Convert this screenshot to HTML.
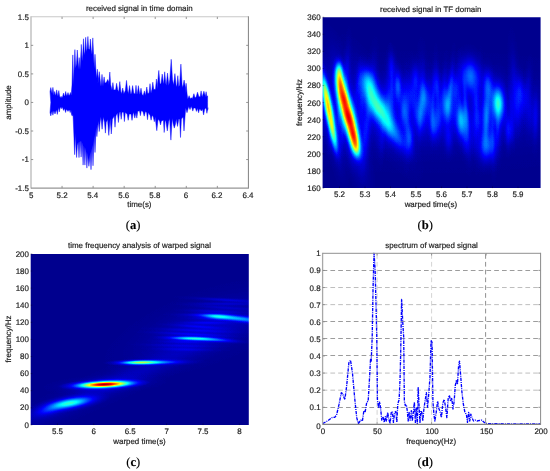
<!DOCTYPE html>
<html><head><meta charset="utf-8"><title>figure</title>
<style>
html,body{margin:0;padding:0;background:#fff}
svg{display:block}
text{font-family:"Liberation Sans",sans-serif;fill:#1c1c1c;stroke:#1c1c1c;stroke-width:.18px;text-rendering:geometricPrecision}
text.cap{font-family:"Liberation Serif",serif;fill:#000;stroke:#000;stroke-width:.12px}
</style></head><body>
<svg width="550" height="471" viewBox="0 0 550 471">
<defs>
<filter id="jet" color-interpolation-filters="sRGB" filterUnits="userSpaceOnUse" x="0" y="0" width="550" height="471">
<feComponentTransfer>
<feFuncR type="table" tableValues="0 0 0 0 .5 1 1 1 .5"/>
<feFuncG type="table" tableValues="0 0 .5 1 1 1 .5 0 0"/>
<feFuncB type="table" tableValues=".56 1 1 1 .5 0 0 0 0"/>
</feComponentTransfer>
</filter>
<radialGradient id="g" cx="0" cy="0" r="1" gradientUnits="objectBoundingBox" gradientTransform="translate(.5 .5) scale(.5)"><stop offset="0.000" stop-color="#fff" stop-opacity="1.000"/><stop offset="0.083" stop-color="#fff" stop-opacity="0.969"/><stop offset="0.167" stop-color="#fff" stop-opacity="0.882"/><stop offset="0.250" stop-color="#fff" stop-opacity="0.755"/><stop offset="0.333" stop-color="#fff" stop-opacity="0.607"/><stop offset="0.417" stop-color="#fff" stop-opacity="0.458"/><stop offset="0.500" stop-color="#fff" stop-opacity="0.325"/><stop offset="0.583" stop-color="#fff" stop-opacity="0.216"/><stop offset="0.667" stop-color="#fff" stop-opacity="0.135"/><stop offset="0.750" stop-color="#fff" stop-opacity="0.080"/><stop offset="0.833" stop-color="#fff" stop-opacity="0.044"/><stop offset="0.917" stop-color="#fff" stop-opacity="0.023"/><stop offset="1.000" stop-color="#fff" stop-opacity="0.000"/></radialGradient>
<clipPath id="cb"><rect x="322.6" y="17.2" width="218" height="170.9"/></clipPath>
<clipPath id="cc"><rect x="30.7" y="253.9" width="218.1" height="171.2"/></clipPath>
</defs>
<rect width="550" height="471" fill="#fff"/>
<polygon points="50.8,102.5 50.0,91.6 50.8,87.6 51.6,91.6 52.1,93.4 52.9,87.4 53.7,93.4 53.9,95.3 54.7,91.5 55.5,95.3 55.9,95.0 56.7,89.9 57.5,95.0 58.0,96.1 58.8,90.6 59.6,96.1 60.3,98.1 61.1,96.3 61.9,98.1 62.7,96.3 63.5,93.1 64.3,96.3 64.9,95.4 65.7,91.5 66.5,95.4 67.2,95.3 68.0,92.6 68.8,95.3 69.6,95.3 70.4,92.5 71.2,95.3 72.0,84.9 72.8,54.9 73.6,84.9 74.1,68.3 74.9,49.6 75.7,68.3 76.5,63.4 77.3,50.0 78.1,63.4 78.4,69.6 79.2,57.6 80.0,69.6 80.5,61.1 81.3,44.4 82.1,61.1 82.7,54.9 83.5,38.8 84.3,54.9 84.9,51.7 85.7,37.3 86.5,51.7 87.1,48.7 87.9,36.5 88.7,48.7 89.6,49.6 90.4,39.0 91.2,49.6 92.0,54.6 92.8,37.9 93.6,54.6 94.2,68.4 95.0,54.3 95.8,68.4 96.6,78.5 97.4,69.2 98.2,78.5 97.9,83.8 99.3,71.7 100.6,83.8 101.0,86.5 102.0,74.4 103.0,86.5 103.2,83.3 104.1,76.9 105.0,83.3 106.6,82.1 107.7,79.5 108.8,82.1 108.9,84.7 109.8,72.0 110.7,84.7 112.0,90.1 112.9,82.6 113.8,90.1 115.6,89.7 116.6,83.3 117.7,89.7 118.7,91.8 119.8,81.6 120.9,91.8 121.5,93.7 122.7,88.0 123.9,93.7 125.3,90.6 126.5,80.4 127.6,90.6 128.4,93.7 129.5,85.6 130.7,93.7 131.5,93.2 132.6,85.6 133.8,93.2 135.1,94.1 136.0,85.3 136.9,94.1 137.3,93.8 138.4,85.7 139.6,93.8 139.8,94.6 141.0,88.2 142.1,94.6 143.2,95.6 144.4,90.9 145.5,95.6 145.8,93.3 146.8,87.0 147.7,93.3 149.0,93.2 150.0,83.7 151.0,93.2 151.9,89.6 152.8,82.2 153.8,89.6 155.5,89.2 156.4,79.0 157.4,89.2 157.5,84.0 158.8,70.4 160.0,84.0 161.0,83.8 162.2,74.1 163.5,83.8 163.8,82.8 164.7,71.8 165.7,82.8 166.2,85.6 167.5,73.1 168.8,85.6 169.8,79.5 171.2,59.3 172.5,79.5 173.6,85.1 174.9,73.6 176.1,85.1 176.8,86.8 177.8,75.7 178.8,86.8 179.6,85.0 180.9,64.1 182.1,85.0 182.8,87.4 184.1,80.1 185.4,87.4 185.2,94.0 186.1,83.3 187.1,94.0 187.8,99.0 189.1,95.7 190.4,99.0 190.4,98.8 191.5,97.7 192.6,98.8 192.6,98.1 193.9,93.7 195.1,98.1 196.3,96.6 197.5,92.2 198.8,96.6 200.1,97.0 201.1,90.9 202.1,97.0 202.6,95.6 203.9,91.2 205.1,95.6 205.2,97.2 206.1,91.7 207.0,97.2 207.6,95.8 207.6,102.5 207.6,102.5 207.6,110.3 207.9,107.7 206.9,113.3 205.9,107.7 204.6,109.4 203.6,114.9 202.6,109.4 202.2,109.6 201.3,111.0 200.4,109.6 199.5,109.1 198.6,112.8 197.6,109.1 197.5,108.0 196.4,111.4 195.4,108.0 193.7,108.0 192.8,111.1 191.9,108.0 191.2,106.6 190.0,109.6 188.7,106.6 188.3,108.1 187.0,112.7 185.7,108.1 185.0,117.0 184.0,131.0 183.1,117.0 181.4,119.0 180.5,137.5 179.6,119.0 178.8,119.0 177.5,126.4 176.2,119.0 175.5,123.9 174.3,128.1 173.2,123.9 172.2,118.6 170.9,140.1 169.6,118.6 168.6,121.7 167.3,130.9 165.9,121.7 165.1,120.2 164.2,132.5 163.4,120.2 161.4,121.1 160.5,124.9 159.6,121.1 158.1,119.2 156.8,130.7 155.4,119.2 155.4,116.7 154.3,121.7 153.2,116.7 152.1,115.4 151.1,120.2 150.1,115.4 148.4,112.4 147.5,119.7 146.6,112.4 145.5,111.5 144.2,116.2 142.9,111.5 141.3,110.8 140.4,115.7 139.5,110.8 137.8,111.2 136.8,118.1 135.8,111.2 136.1,112.2 134.8,118.1 133.5,112.2 133.0,113.9 132.0,120.4 131.0,113.9 129.3,114.1 128.2,120.3 127.1,114.1 125.3,112.6 124.4,121.6 123.6,112.6 122.1,112.1 121.2,119.3 120.3,112.1 119.4,112.8 118.4,122.5 117.4,112.8 115.9,116.0 115.0,127.2 114.2,116.0 112.4,119.3 111.3,134.0 110.2,119.3 110.1,119.6 108.8,135.4 107.5,119.6 106.2,122.4 105.4,133.1 104.5,122.4 103.3,116.9 102.1,129.2 100.9,116.9 100.2,121.0 99.2,131.6 98.3,121.0 97.7,127.2 96.9,136.6 96.1,127.2 95.8,135.1 95.0,152.5 94.2,135.1 93.8,144.7 93.0,165.8 92.2,144.7 91.8,151.7 91.0,169.7 90.2,151.7 89.7,159.0 88.9,166.3 88.1,159.0 87.7,152.8 86.9,168.1 86.1,152.8 85.7,147.5 84.9,165.1 84.1,147.5 83.9,145.5 83.1,165.1 82.3,145.5 81.9,140.9 81.1,157.1 80.3,140.9 79.8,141.9 79.0,157.6 78.2,141.9 77.4,145.4 76.6,157.5 75.8,145.4 75.4,133.0 74.6,154.7 73.8,133.0 73.0,114.2 72.2,116.1 71.4,114.2 71.0,110.1 70.2,112.6 69.4,110.1 68.8,109.9 68.0,111.4 67.2,109.9 66.4,109.4 65.6,112.5 64.8,109.4 64.4,108.4 63.6,110.4 62.8,108.4 62.0,107.0 61.2,108.8 60.4,107.0 60.1,107.5 59.3,111.9 58.5,107.5 58.1,109.8 57.3,114.4 56.5,109.8 55.8,111.6 55.0,114.0 54.2,111.6 53.7,111.3 52.9,115.2 52.1,111.3 51.6,112.5 50.8,115.9 50.0,112.5 50.8,102.5" fill="#0000ff" stroke="#0000ff" stroke-width="0.45" stroke-linejoin="round"/>
<line x1="31.0" y1="16.3" x2="31.0" y2="188.6" stroke="#b6b6b6" stroke-width="1.25"/>
<line x1="31.0" y1="16.8" x2="248.4" y2="16.8" stroke="#c8c8c8" stroke-width="1.1"/>
<line x1="248.4" y1="16.3" x2="248.4" y2="188.6" stroke="#808080" stroke-width="1.0"/>
<line x1="31.0" y1="188.1" x2="248.4" y2="188.1" stroke="#969696" stroke-width="1.05"/>
<path d="M62.06 188.1v-2.2M62.06 16.8v2.2M93.11 188.1v-2.2M93.11 16.8v2.2M124.17 188.1v-2.2M124.17 16.8v2.2M155.23 188.1v-2.2M155.23 16.8v2.2M186.29 188.1v-2.2M186.29 16.8v2.2M217.34 188.1v-2.2M217.34 16.8v2.2M31.0 45.35h2.2M248.4 45.35h-2.2M31.0 73.90h2.2M248.4 73.90h-2.2M31.0 102.45h2.2M248.4 102.45h-2.2M31.0 131.00h2.2M248.4 131.00h-2.2M31.0 159.55h2.2M248.4 159.55h-2.2" stroke="#8a8a8a" stroke-width="0.9" fill="none"/>
<text x="31.30" y="197.70" text-anchor="middle" font-size="7.95" >5</text>
<text x="62.06" y="197.70" text-anchor="middle" font-size="7.95" >5.2</text>
<text x="92.71" y="197.70" text-anchor="middle" font-size="7.95" >5.4</text>
<text x="123.77" y="197.70" text-anchor="middle" font-size="7.95" >5.6</text>
<text x="154.83" y="197.70" text-anchor="middle" font-size="7.95" >5.8</text>
<text x="185.89" y="197.70" text-anchor="middle" font-size="7.95" >6</text>
<text x="216.94" y="197.70" text-anchor="middle" font-size="7.95" >6.2</text>
<text x="248.00" y="197.70" text-anchor="middle" font-size="7.95" >6.4</text>
<text x="28.90" y="19.65" text-anchor="end" font-size="7.95" >1.5</text>
<text x="28.90" y="48.20" text-anchor="end" font-size="7.95" >1</text>
<text x="28.90" y="76.75" text-anchor="end" font-size="7.95" >0.5</text>
<text x="28.90" y="105.30" text-anchor="end" font-size="7.95" >0</text>
<text x="28.90" y="133.85" text-anchor="end" font-size="7.95" >-0.5</text>
<text x="28.90" y="162.40" text-anchor="end" font-size="7.95" >-1</text>
<text x="28.90" y="190.95" text-anchor="end" font-size="7.95" >-1.5</text>
<text x="139.30" y="11.10" text-anchor="middle" font-size="7.95" >received signal in time domain</text>
<text x="139.40" y="207.30" text-anchor="middle" font-size="7.95" >time(s)</text>
<text transform="translate(10.60,102.50) rotate(-90)" text-anchor="middle" font-size="7.95">amplitude</text>
<text x="133.2" y="229.4" text-anchor="middle" class="cap" font-size="12.6">(<tspan font-weight="bold">a</tspan>)</text>
<g clip-path="url(#cb)"><g filter="url(#jet)">
<rect x="320.6" y="15.2" width="222.0" height="174.9" fill="#000"/>
<ellipse cx="0" cy="0" rx="270.0" ry="72.0" transform="translate(430.0,112.0) rotate(0.0)" fill="url(#g)" opacity="0.050"/>
<ellipse cx="0" cy="0" rx="180.0" ry="66.0" transform="translate(400.0,110.0) rotate(0.0)" fill="url(#g)" opacity="0.030"/>
<ellipse cx="0" cy="0" rx="43.3" ry="6.7" transform="translate(327.7,112.7) rotate(92.3)" fill="url(#g)" opacity="0.025"/>
<ellipse cx="0" cy="0" rx="39.3" ry="5.2" transform="translate(331.2,130.2) rotate(96.0)" fill="url(#g)" opacity="0.055"/>
<ellipse cx="0" cy="0" rx="53.0" ry="4.8" transform="translate(339.5,108.6) rotate(92.3)" fill="url(#g)" opacity="0.085"/>
<ellipse cx="0" cy="0" rx="54.2" ry="4.5" transform="translate(342.7,124.5) rotate(93.6)" fill="url(#g)" opacity="0.064"/>
<ellipse cx="0" cy="0" rx="61.2" ry="6.2" transform="translate(346.2,81.9) rotate(93.2)" fill="url(#g)" opacity="0.086"/>
<ellipse cx="0" cy="0" rx="44.2" ry="7.6" transform="translate(352.7,135.3) rotate(90.4)" fill="url(#g)" opacity="0.090"/>
<ellipse cx="0" cy="0" rx="34.9" ry="5.1" transform="translate(358.0,85.8) rotate(95.7)" fill="url(#g)" opacity="0.053"/>
<ellipse cx="0" cy="0" rx="48.3" ry="5.8" transform="translate(361.4,98.1) rotate(89.5)" fill="url(#g)" opacity="0.064"/>
<ellipse cx="0" cy="0" rx="54.6" ry="8.1" transform="translate(365.8,134.3) rotate(94.6)" fill="url(#g)" opacity="0.094"/>
<ellipse cx="0" cy="0" rx="61.0" ry="8.3" transform="translate(370.8,89.8) rotate(95.0)" fill="url(#g)" opacity="0.063"/>
<ellipse cx="0" cy="0" rx="59.9" ry="6.6" transform="translate(375.5,92.7) rotate(88.8)" fill="url(#g)" opacity="0.025"/>
<ellipse cx="0" cy="0" rx="33.2" ry="7.6" transform="translate(380.7,139.4) rotate(90.1)" fill="url(#g)" opacity="0.031"/>
<ellipse cx="0" cy="0" rx="61.4" ry="4.4" transform="translate(382.7,126.1) rotate(92.1)" fill="url(#g)" opacity="0.023"/>
<ellipse cx="0" cy="0" rx="61.7" ry="8.3" transform="translate(389.2,99.9) rotate(91.1)" fill="url(#g)" opacity="0.095"/>
<ellipse cx="0" cy="0" rx="51.6" ry="4.3" transform="translate(391.9,84.6) rotate(88.0)" fill="url(#g)" opacity="0.051"/>
<ellipse cx="0" cy="0" rx="31.5" ry="7.8" transform="translate(397.9,89.4) rotate(89.1)" fill="url(#g)" opacity="0.092"/>
<ellipse cx="0" cy="0" rx="46.6" ry="6.4" transform="translate(403.7,102.7) rotate(92.4)" fill="url(#g)" opacity="0.065"/>
<ellipse cx="0" cy="0" rx="63.9" ry="6.3" transform="translate(406.8,117.2) rotate(90.3)" fill="url(#g)" opacity="0.074"/>
<ellipse cx="0" cy="0" rx="65.2" ry="6.4" transform="translate(409.9,98.1) rotate(91.5)" fill="url(#g)" opacity="0.021"/>
<ellipse cx="0" cy="0" rx="30.7" ry="6.8" transform="translate(415.2,114.8) rotate(92.3)" fill="url(#g)" opacity="0.025"/>
<ellipse cx="0" cy="0" rx="54.5" ry="5.7" transform="translate(420.8,108.0) rotate(93.1)" fill="url(#g)" opacity="0.075"/>
<ellipse cx="0" cy="0" rx="54.3" ry="8.2" transform="translate(422.6,83.6) rotate(88.5)" fill="url(#g)" opacity="0.054"/>
<ellipse cx="0" cy="0" rx="43.1" ry="5.5" transform="translate(429.7,99.2) rotate(89.7)" fill="url(#g)" opacity="0.065"/>
<ellipse cx="0" cy="0" rx="57.8" ry="4.3" transform="translate(433.0,102.6) rotate(91.7)" fill="url(#g)" opacity="0.075"/>
<ellipse cx="0" cy="0" rx="58.9" ry="5.2" transform="translate(437.6,93.4) rotate(87.9)" fill="url(#g)" opacity="0.053"/>
<ellipse cx="0" cy="0" rx="41.6" ry="5.6" transform="translate(443.9,86.1) rotate(94.3)" fill="url(#g)" opacity="0.053"/>
<ellipse cx="0" cy="0" rx="42.1" ry="6.9" transform="translate(449.2,90.2) rotate(94.8)" fill="url(#g)" opacity="0.054"/>
<ellipse cx="0" cy="0" rx="49.1" ry="5.0" transform="translate(450.9,87.3) rotate(94.1)" fill="url(#g)" opacity="0.083"/>
<ellipse cx="0" cy="0" rx="59.1" ry="6.9" transform="translate(455.3,96.7) rotate(94.1)" fill="url(#g)" opacity="0.046"/>
<ellipse cx="0" cy="0" rx="58.6" ry="5.3" transform="translate(459.6,97.5) rotate(89.5)" fill="url(#g)" opacity="0.051"/>
<ellipse cx="0" cy="0" rx="63.1" ry="4.9" transform="translate(465.5,104.6) rotate(86.0)" fill="url(#g)" opacity="0.091"/>
<ellipse cx="0" cy="0" rx="45.6" ry="8.2" transform="translate(472.1,139.2) rotate(95.3)" fill="url(#g)" opacity="0.037"/>
<ellipse cx="0" cy="0" rx="53.9" ry="6.4" transform="translate(476.1,130.2) rotate(88.9)" fill="url(#g)" opacity="0.046"/>
<ellipse cx="0" cy="0" rx="51.2" ry="5.4" transform="translate(478.3,84.1) rotate(94.1)" fill="url(#g)" opacity="0.023"/>
<ellipse cx="0" cy="0" rx="63.3" ry="8.0" transform="translate(485.9,121.6) rotate(95.0)" fill="url(#g)" opacity="0.063"/>
<ellipse cx="0" cy="0" rx="36.2" ry="5.5" transform="translate(486.4,124.7) rotate(92.6)" fill="url(#g)" opacity="0.059"/>
<ellipse cx="0" cy="0" rx="52.0" ry="5.6" transform="translate(492.8,136.3) rotate(88.5)" fill="url(#g)" opacity="0.085"/>
<ellipse cx="0" cy="0" rx="42.7" ry="5.0" transform="translate(497.7,126.9) rotate(91.3)" fill="url(#g)" opacity="0.081"/>
<ellipse cx="0" cy="0" rx="63.2" ry="7.6" transform="translate(500.9,127.5) rotate(94.2)" fill="url(#g)" opacity="0.021"/>
<ellipse cx="0" cy="0" rx="31.8" ry="5.3" transform="translate(507.5,131.8) rotate(88.7)" fill="url(#g)" opacity="0.060"/>
<ellipse cx="0" cy="0" rx="58.0" ry="4.2" transform="translate(511.1,108.4) rotate(86.5)" fill="url(#g)" opacity="0.030"/>
<ellipse cx="0" cy="0" rx="65.1" ry="7.8" transform="translate(514.3,84.1) rotate(86.9)" fill="url(#g)" opacity="0.058"/>
<ellipse cx="0" cy="0" rx="42.6" ry="6.9" transform="translate(519.8,98.9) rotate(91.9)" fill="url(#g)" opacity="0.047"/>
<ellipse cx="0" cy="0" rx="34.5" ry="6.5" transform="translate(523.8,99.7) rotate(93.2)" fill="url(#g)" opacity="0.049"/>
<ellipse cx="0" cy="0" rx="43.4" ry="6.7" transform="translate(527.8,90.7) rotate(93.8)" fill="url(#g)" opacity="0.049"/>
<ellipse cx="0" cy="0" rx="45.5" ry="5.8" transform="translate(535.7,117.4) rotate(91.0)" fill="url(#g)" opacity="0.073"/>
<ellipse cx="0" cy="0" rx="27.0" ry="7.8" transform="translate(415.7,78.7) rotate(88.0)" fill="url(#g)" opacity="0.110"/>
<ellipse cx="0" cy="0" rx="27.0" ry="7.8" transform="translate(424.6,96.5) rotate(88.0)" fill="url(#g)" opacity="0.130"/>
<ellipse cx="0" cy="0" rx="27.0" ry="7.8" transform="translate(447.0,107.0) rotate(88.0)" fill="url(#g)" opacity="0.120"/>
<ellipse cx="0" cy="0" rx="27.0" ry="7.8" transform="translate(460.4,120.4) rotate(88.0)" fill="url(#g)" opacity="0.100"/>
<ellipse cx="0" cy="0" rx="27.0" ry="7.8" transform="translate(409.8,138.2) rotate(88.0)" fill="url(#g)" opacity="0.140"/>
<ellipse cx="0" cy="0" rx="27.0" ry="7.8" transform="translate(397.9,84.6) rotate(88.0)" fill="url(#g)" opacity="0.100"/>
<ellipse cx="0" cy="0" rx="27.0" ry="7.8" transform="translate(436.5,84.6) rotate(88.0)" fill="url(#g)" opacity="0.080"/>
<ellipse cx="0" cy="0" rx="27.0" ry="7.8" transform="translate(392.0,66.8) rotate(88.0)" fill="url(#g)" opacity="0.070"/>
<ellipse cx="0" cy="0" rx="27.0" ry="7.8" transform="translate(433.6,126.0) rotate(88.0)" fill="url(#g)" opacity="0.100"/>
<ellipse cx="0" cy="0" rx="27.0" ry="7.8" transform="translate(448.5,138.0) rotate(88.0)" fill="url(#g)" opacity="0.080"/>
<ellipse cx="0" cy="0" rx="27.0" ry="7.8" transform="translate(418.7,117.0) rotate(88.0)" fill="url(#g)" opacity="0.080"/>
<ellipse cx="0" cy="0" rx="27.0" ry="7.8" transform="translate(466.0,141.0) rotate(88.0)" fill="url(#g)" opacity="0.080"/>
<ellipse cx="0" cy="0" rx="27.0" ry="7.8" transform="translate(404.0,112.0) rotate(88.0)" fill="url(#g)" opacity="0.080"/>
<ellipse cx="0" cy="0" rx="27.0" ry="7.8" transform="translate(455.0,88.0) rotate(88.0)" fill="url(#g)" opacity="0.080"/>
<ellipse cx="0" cy="0" rx="27.0" ry="7.8" transform="translate(478.0,120.0) rotate(88.0)" fill="url(#g)" opacity="0.080"/>
<ellipse cx="0" cy="0" rx="27.0" ry="7.8" transform="translate(510.0,130.0) rotate(88.0)" fill="url(#g)" opacity="0.080"/>
<ellipse cx="0" cy="0" rx="27.0" ry="7.8" transform="translate(520.0,90.0) rotate(88.0)" fill="url(#g)" opacity="0.070"/>
<ellipse cx="0" cy="0" rx="27.0" ry="7.8" transform="translate(476.0,100.0) rotate(88.0)" fill="url(#g)" opacity="0.070"/>
<ellipse cx="0" cy="0" rx="36.0" ry="6.6" transform="translate(325.6,92.0) rotate(80.0)" fill="url(#g)" opacity="0.400"/>
<ellipse cx="0" cy="0" rx="36.0" ry="6.9" transform="translate(328.6,108.0) rotate(79.0)" fill="url(#g)" opacity="0.470"/>
<ellipse cx="0" cy="0" rx="36.0" ry="6.3" transform="translate(331.8,126.0) rotate(78.0)" fill="url(#g)" opacity="0.400"/>
<ellipse cx="0" cy="0" rx="27.0" ry="6.0" transform="translate(334.2,141.0) rotate(80.0)" fill="url(#g)" opacity="0.180"/>
<ellipse cx="0" cy="0" rx="90.0" ry="12.0" transform="translate(329.0,110.0) rotate(79.0)" fill="url(#g)" opacity="0.140"/>
<ellipse cx="0" cy="0" rx="18.0" ry="7.2" transform="translate(339.4,71.0) rotate(88.0)" fill="url(#g)" opacity="0.300"/>
<ellipse cx="0" cy="0" rx="27.0" ry="8.1" transform="translate(340.3,83.0) rotate(82.0)" fill="url(#g)" opacity="0.600"/>
<ellipse cx="0" cy="0" rx="33.0" ry="9.9" transform="translate(343.5,98.0) rotate(76.0)" fill="url(#g)" opacity="0.720"/>
<ellipse cx="0" cy="0" rx="36.0" ry="10.5" transform="translate(348.5,117.0) rotate(75.0)" fill="url(#g)" opacity="0.840"/>
<ellipse cx="0" cy="0" rx="30.0" ry="9.0" transform="translate(353.3,135.0) rotate(76.0)" fill="url(#g)" opacity="0.720"/>
<ellipse cx="0" cy="0" rx="21.0" ry="7.8" transform="translate(355.6,146.0) rotate(80.0)" fill="url(#g)" opacity="0.450"/>
<ellipse cx="0" cy="0" rx="96.0" ry="18.0" transform="translate(348.0,115.0) rotate(77.0)" fill="url(#g)" opacity="0.220"/>
<ellipse cx="0" cy="0" rx="27.0" ry="13.2" transform="translate(367.5,81.0) rotate(80.0)" fill="url(#g)" opacity="0.200"/>
<ellipse cx="0" cy="0" rx="30.0" ry="15.0" transform="translate(371.5,94.0) rotate(72.0)" fill="url(#g)" opacity="0.220"/>
<ellipse cx="0" cy="0" rx="27.0" ry="16.2" transform="translate(379.0,108.0) rotate(62.0)" fill="url(#g)" opacity="0.270"/>
<ellipse cx="0" cy="0" rx="30.0" ry="13.8" transform="translate(387.5,123.0) rotate(58.0)" fill="url(#g)" opacity="0.210"/>
<ellipse cx="0" cy="0" rx="33.0" ry="13.5" transform="translate(398.0,139.0) rotate(55.0)" fill="url(#g)" opacity="0.110"/>
<ellipse cx="0" cy="0" rx="90.0" ry="24.0" transform="translate(380.0,108.0) rotate(62.0)" fill="url(#g)" opacity="0.090"/>
<ellipse cx="0" cy="0" rx="28.5" ry="11.1" transform="translate(498.0,103.0) rotate(88.0)" fill="url(#g)" opacity="0.310"/>
<ellipse cx="0" cy="0" rx="45.0" ry="13.5" transform="translate(498.0,105.0) rotate(90.0)" fill="url(#g)" opacity="0.120"/>
<ellipse cx="0" cy="0" rx="33.0" ry="18.0" transform="translate(470.5,76.0) rotate(85.0)" fill="url(#g)" opacity="0.220"/>
<ellipse cx="0" cy="0" rx="30.0" ry="10.2" transform="translate(488.0,86.0) rotate(88.0)" fill="url(#g)" opacity="0.170"/>
<ellipse cx="0" cy="0" rx="33.0" ry="13.2" transform="translate(463.0,122.0) rotate(88.0)" fill="url(#g)" opacity="0.200"/>
<ellipse cx="0" cy="0" rx="30.0" ry="15.6" transform="translate(487.0,146.0) rotate(90.0)" fill="url(#g)" opacity="0.200"/>
<ellipse cx="0" cy="0" rx="39.0" ry="9.0" transform="translate(486.0,112.0) rotate(90.0)" fill="url(#g)" opacity="0.130"/>
<ellipse cx="0" cy="0" rx="39.0" ry="13.5" transform="translate(447.0,104.0) rotate(90.0)" fill="url(#g)" opacity="0.110"/>
<ellipse cx="0" cy="0" rx="33.0" ry="10.8" transform="translate(437.0,120.0) rotate(90.0)" fill="url(#g)" opacity="0.090"/>
<ellipse cx="0" cy="0" rx="39.0" ry="10.8" transform="translate(423.0,112.0) rotate(88.0)" fill="url(#g)" opacity="0.080"/>
<ellipse cx="0" cy="0" rx="33.0" ry="10.8" transform="translate(413.0,96.0) rotate(85.0)" fill="url(#g)" opacity="0.080"/>
<ellipse cx="0" cy="0" rx="48.0" ry="12.0" transform="translate(516.0,105.0) rotate(90.0)" fill="url(#g)" opacity="0.060"/>
<ellipse cx="0" cy="0" rx="42.0" ry="9.0" transform="translate(530.0,112.0) rotate(90.0)" fill="url(#g)" opacity="0.050"/>
</g></g>
<text x="339.50" y="196.90" text-anchor="middle" font-size="7.95" >5.2</text>
<text x="365.00" y="196.90" text-anchor="middle" font-size="7.95" >5.3</text>
<text x="390.50" y="196.90" text-anchor="middle" font-size="7.95" >5.4</text>
<text x="416.00" y="196.90" text-anchor="middle" font-size="7.95" >5.5</text>
<text x="441.50" y="196.90" text-anchor="middle" font-size="7.95" >5.6</text>
<text x="467.00" y="196.90" text-anchor="middle" font-size="7.95" >5.7</text>
<text x="492.50" y="196.90" text-anchor="middle" font-size="7.95" >5.8</text>
<text x="518.00" y="196.90" text-anchor="middle" font-size="7.95" >5.9</text>
<text x="320.60" y="20.05" text-anchor="end" font-size="7.95" >360</text>
<text x="320.60" y="37.14" text-anchor="end" font-size="7.95" >340</text>
<text x="320.60" y="54.23" text-anchor="end" font-size="7.95" >320</text>
<text x="320.60" y="71.32" text-anchor="end" font-size="7.95" >300</text>
<text x="320.60" y="88.41" text-anchor="end" font-size="7.95" >280</text>
<text x="320.60" y="105.50" text-anchor="end" font-size="7.95" >260</text>
<text x="320.60" y="122.59" text-anchor="end" font-size="7.95" >240</text>
<text x="320.60" y="139.68" text-anchor="end" font-size="7.95" >220</text>
<text x="320.60" y="156.77" text-anchor="end" font-size="7.95" >200</text>
<text x="320.60" y="173.86" text-anchor="end" font-size="7.95" >180</text>
<text x="320.60" y="190.95" text-anchor="end" font-size="7.95" >160</text>
<path d="M339.50 188.1v-1.6M365.00 188.1v-1.6M390.50 188.1v-1.6M416.00 188.1v-1.6M441.50 188.1v-1.6M467.00 188.1v-1.6M492.50 188.1v-1.6M518.00 188.1v-1.6M322.6 17.20h1.6M322.6 34.29h1.6M322.6 51.38h1.6M322.6 68.47h1.6M322.6 85.56h1.6M322.6 102.65h1.6M322.6 119.74h1.6M322.6 136.83h1.6M322.6 153.92h1.6M322.6 171.01h1.6M322.6 188.10h1.6" stroke="#000" stroke-opacity="0.4" stroke-width="0.8"/>
<text x="430.70" y="11.50" text-anchor="middle" font-size="7.95" >received signal in TF domain</text>
<text x="430.90" y="206.80" text-anchor="middle" font-size="7.95" >warped time(s)</text>
<text transform="translate(302.00,102.50) rotate(-90)" text-anchor="middle" font-size="7.95">frequency/Hz</text>
<text x="425.3" y="229.4" text-anchor="middle" class="cap" font-size="12.6">(<tspan font-weight="bold">b</tspan>)</text>
<g clip-path="url(#cc)"><g filter="url(#jet)">
<rect x="28.7" y="251.9" width="222.10000000000002" height="175.20000000000002" fill="#000"/>
<ellipse cx="0" cy="0" rx="225.0" ry="21.0" transform="translate(110.0,385.0) rotate(-24.0)" fill="url(#g)" opacity="0.050"/>
<ellipse cx="0" cy="0" rx="120.0" ry="42.0" transform="translate(205.0,328.0) rotate(-20.0)" fill="url(#g)" opacity="0.060"/>
<ellipse cx="0" cy="0" rx="59.8" ry="3.0" transform="translate(226.5,300.0) rotate(3.2)" fill="url(#g)" opacity="0.068"/>
<ellipse cx="0" cy="0" rx="64.1" ry="3.0" transform="translate(224.5,303.8) rotate(0.1)" fill="url(#g)" opacity="0.049"/>
<ellipse cx="0" cy="0" rx="57.6" ry="3.0" transform="translate(223.5,307.6) rotate(3.6)" fill="url(#g)" opacity="0.035"/>
<ellipse cx="0" cy="0" rx="47.9" ry="3.0" transform="translate(214.4,311.4) rotate(2.2)" fill="url(#g)" opacity="0.053"/>
<ellipse cx="0" cy="0" rx="47.2" ry="3.0" transform="translate(205.5,315.2) rotate(1.1)" fill="url(#g)" opacity="0.067"/>
<ellipse cx="0" cy="0" rx="45.8" ry="3.0" transform="translate(211.1,319.0) rotate(3.2)" fill="url(#g)" opacity="0.036"/>
<ellipse cx="0" cy="0" rx="45.0" ry="3.0" transform="translate(205.9,322.8) rotate(0.0)" fill="url(#g)" opacity="0.065"/>
<ellipse cx="0" cy="0" rx="47.2" ry="3.0" transform="translate(197.6,326.6) rotate(3.9)" fill="url(#g)" opacity="0.065"/>
<ellipse cx="0" cy="0" rx="65.1" ry="3.0" transform="translate(195.1,330.4) rotate(2.2)" fill="url(#g)" opacity="0.057"/>
<ellipse cx="0" cy="0" rx="64.6" ry="3.0" transform="translate(190.7,334.2) rotate(2.8)" fill="url(#g)" opacity="0.069"/>
<ellipse cx="0" cy="0" rx="49.2" ry="3.0" transform="translate(195.5,338.0) rotate(1.4)" fill="url(#g)" opacity="0.037"/>
<ellipse cx="0" cy="0" rx="43.6" ry="3.0" transform="translate(183.1,341.8) rotate(1.2)" fill="url(#g)" opacity="0.054"/>
<ellipse cx="0" cy="0" rx="58.3" ry="3.0" transform="translate(178.0,345.6) rotate(1.4)" fill="url(#g)" opacity="0.042"/>
<ellipse cx="0" cy="0" rx="53.5" ry="3.0" transform="translate(184.4,349.4) rotate(1.3)" fill="url(#g)" opacity="0.049"/>
<ellipse cx="0" cy="0" rx="42.0" ry="9.0" transform="translate(69.5,403.2) rotate(-9.5)" fill="url(#g)" opacity="0.400"/>
<ellipse cx="0" cy="0" rx="30.0" ry="9.0" transform="translate(48.0,410.5) rotate(-14.0)" fill="url(#g)" opacity="0.110"/>
<ellipse cx="0" cy="0" rx="46.5" ry="5.7" transform="translate(104.5,384.4) rotate(-2.6)" fill="url(#g)" opacity="0.970"/>
<ellipse cx="0" cy="0" rx="66.0" ry="10.2" transform="translate(105.0,384.4) rotate(-3.0)" fill="url(#g)" opacity="0.100"/>
<ellipse cx="0" cy="0" rx="36.0" ry="3.9" transform="translate(140.0,362.5) rotate(-0.8)" fill="url(#g)" opacity="0.470"/>
<ellipse cx="0" cy="0" rx="54.0" ry="4.2" transform="translate(155.0,362.3) rotate(-0.6)" fill="url(#g)" opacity="0.200"/>
<ellipse cx="0" cy="0" rx="42.0" ry="3.6" transform="translate(192.0,338.5) rotate(1.5)" fill="url(#g)" opacity="0.310"/>
<ellipse cx="0" cy="0" rx="45.0" ry="3.6" transform="translate(213.0,339.8) rotate(3.5)" fill="url(#g)" opacity="0.160"/>
<ellipse cx="0" cy="0" rx="30.0" ry="4.8" transform="translate(218.0,316.6) rotate(3.5)" fill="url(#g)" opacity="0.330"/>
<ellipse cx="0" cy="0" rx="30.0" ry="5.4" transform="translate(236.0,318.3) rotate(5.0)" fill="url(#g)" opacity="0.210"/>
<ellipse cx="0" cy="0" rx="24.0" ry="6.0" transform="translate(250.0,320.0) rotate(5.0)" fill="url(#g)" opacity="0.150"/>
</g></g>
<text x="57.40" y="433.90" text-anchor="middle" font-size="7.95" >5.5</text>
<text x="93.80" y="433.90" text-anchor="middle" font-size="7.95" >6</text>
<text x="130.20" y="433.90" text-anchor="middle" font-size="7.95" >6.5</text>
<text x="166.60" y="433.90" text-anchor="middle" font-size="7.95" >7</text>
<text x="203.00" y="433.90" text-anchor="middle" font-size="7.95" >7.5</text>
<text x="239.40" y="433.90" text-anchor="middle" font-size="7.95" >8</text>
<text x="28.90" y="256.50" text-anchor="end" font-size="7.95" >200</text>
<text x="28.90" y="273.57" text-anchor="end" font-size="7.95" >180</text>
<text x="28.90" y="290.64" text-anchor="end" font-size="7.95" >160</text>
<text x="28.90" y="307.71" text-anchor="end" font-size="7.95" >140</text>
<text x="28.90" y="324.78" text-anchor="end" font-size="7.95" >120</text>
<text x="28.90" y="341.85" text-anchor="end" font-size="7.95" >100</text>
<text x="28.90" y="358.92" text-anchor="end" font-size="7.95" >80</text>
<text x="28.90" y="375.99" text-anchor="end" font-size="7.95" >60</text>
<text x="28.90" y="393.06" text-anchor="end" font-size="7.95" >40</text>
<text x="28.90" y="410.13" text-anchor="end" font-size="7.95" >20</text>
<text x="28.90" y="428.30" text-anchor="end" font-size="7.95" >0</text>
<path d="M57.40 425.1v-1.6M93.80 425.1v-1.6M130.20 425.1v-1.6M166.60 425.1v-1.6M203.00 425.1v-1.6M239.40 425.1v-1.6M30.7 253.90h1.6M30.7 271.00h1.6M30.7 288.10h1.6M30.7 305.20h1.6M30.7 322.30h1.6M30.7 339.40h1.6M30.7 356.50h1.6M30.7 373.60h1.6M30.7 390.70h1.6M30.7 407.80h1.6M30.7 424.90h1.6" stroke="#000" stroke-opacity="0.4" stroke-width="0.8"/>
<text x="139.50" y="247.60" text-anchor="middle" font-size="7.95" >time frequency analysis of warped signal</text>
<text x="139.50" y="443.80" text-anchor="middle" font-size="7.95" >warped time(s)</text>
<text transform="translate(10.60,339.00) rotate(-90)" text-anchor="middle" font-size="7.95">frequency/Hz</text>
<text x="133.2" y="465.9" text-anchor="middle" class="cap" font-size="12.6">(<tspan font-weight="bold">c</tspan>)</text>
<path d="M322.6 270.50H540.6" stroke="#9c9c9c" stroke-width="1" stroke-dasharray="4.7 3.1" fill="none"/>
<path d="M322.6 287.52H540.6" stroke="#a0a0a0" stroke-width="0.7" stroke-dasharray="4.7 3.1" fill="none"/>
<path d="M322.6 304.63H540.6" stroke="#a0a0a0" stroke-width="0.7" stroke-dasharray="4.7 3.1" fill="none"/>
<path d="M322.6 321.50H540.6" stroke="#9c9c9c" stroke-width="1" stroke-dasharray="4.7 3.1" fill="none"/>
<path d="M322.6 338.50H540.6" stroke="#9c9c9c" stroke-width="1" stroke-dasharray="4.7 3.1" fill="none"/>
<path d="M322.6 355.50H540.6" stroke="#9c9c9c" stroke-width="1" stroke-dasharray="4.7 3.1" fill="none"/>
<path d="M322.6 373.07H540.6" stroke="#a0a0a0" stroke-width="0.7" stroke-dasharray="4.7 3.1" fill="none"/>
<path d="M322.6 390.18H540.6" stroke="#a0a0a0" stroke-width="0.7" stroke-dasharray="4.7 3.1" fill="none"/>
<path d="M322.6 407.50H540.6" stroke="#9c9c9c" stroke-width="1" stroke-dasharray="4.7 3.1" fill="none"/>
<path d="M377.10 253.3V424.4" stroke="#c8c8c8" stroke-width="0.8" stroke-dasharray="4.7 3.1" stroke-dashoffset="-0.8" fill="none"/>
<path d="M431.60 253.3V424.4" stroke="#c8c8c8" stroke-width="0.8" stroke-dasharray="4.7 3.1" stroke-dashoffset="-0.8" fill="none"/>
<path d="M485.60 253.3V424.4" stroke="#8a8a8a" stroke-width="0.95" stroke-dasharray="4.7 3.1" stroke-dashoffset="-0.8" fill="none"/>
<polyline points="322.60,423.54 327.40,420.98 332.19,417.56 334.92,417.21 336.55,414.99 338.95,404.72 341.35,392.75 342.55,393.60 344.84,399.59 346.58,386.76 348.87,362.80 350.50,360.24 352.47,373.07 354.75,398.73 356.72,417.56 358.35,423.54 360.75,420.12 362.39,420.98 363.91,410.71 365.11,412.42 366.75,402.16 368.16,401.30 369.58,377.35 370.56,358.53 371.21,361.09 372.20,337.14 373.07,287.52 374.05,253.30 375.14,270.41 376.01,304.63 376.77,337.14 377.43,400.45 378.63,407.29 379.61,402.16 380.59,408.15 381.79,420.12 382.99,416.70 384.19,422.35 385.38,416.70 386.37,420.98 387.67,412.42 388.87,419.27 390.07,423.54 391.27,412.42 392.36,411.57 393.45,422.35 394.65,412.42 395.85,411.57 396.83,422.35 397.81,403.87 399.12,399.59 399.99,380.77 400.64,355.96 401.62,299.50 402.72,321.74 403.70,337.14 404.35,401.30 405.33,405.58 406.31,404.72 407.29,410.71 408.17,420.98 409.15,412.42 410.13,420.12 411.33,410.71 412.31,420.98 413.40,411.57 414.38,402.16 415.36,422.35 416.34,408.15 417.32,423.54 418.19,387.61 419.17,408.15 419.94,422.35 420.92,410.71 421.79,412.42 422.77,420.98 423.97,408.15 425.06,401.30 426.37,392.75 427.57,407.29 428.77,393.60 429.97,377.35 431.06,340.56 432.04,342.27 432.91,401.30 434.00,414.99 434.87,420.98 436.18,412.42 437.60,401.30 438.79,408.15 440.32,412.42 441.41,417.56 442.83,403.01 444.14,399.59 445.33,405.58 446.86,417.56 448.17,398.73 449.37,395.31 450.57,401.30 451.77,397.88 452.96,409.00 454.16,401.30 455.25,385.90 456.45,379.91 457.43,384.19 458.63,365.37 459.50,361.09 460.49,373.07 461.90,391.89 463.32,403.87 464.74,411.57 466.48,414.99 467.46,422.35 468.66,412.42 469.75,420.98 470.84,414.13 472.26,418.41 473.57,420.98 475.20,420.12 477.05,420.98 479.56,420.46 481.74,420.12 484.14,422.35 486.54,423.72 497.00,423.72 507.90,423.89 518.80,423.89 529.70,423.89 540.60,423.89" fill="none" stroke="#0000ff" stroke-width="1.35" stroke-dasharray="3.3 1.0 1.0 1.0" stroke-linejoin="round"/>
<line x1="322.6" y1="252.8" x2="322.6" y2="424.9" stroke="#a8a8a8" stroke-width="1.3"/>
<line x1="322.6" y1="253.3" x2="540.6" y2="253.3" stroke="#909090" stroke-width="1.0"/>
<line x1="540.6" y1="252.8" x2="540.6" y2="424.9" stroke="#8a8a8a" stroke-width="1.0"/>
<line x1="322.6" y1="424.4" x2="540.6" y2="424.4" stroke="#808080" stroke-width="1.15"/>
<path d="M377.10 424.4v-2.2M377.10 253.3v2.2M431.60 424.4v-2.2M431.60 253.3v2.2M486.10 424.4v-2.2M486.10 253.3v2.2M322.6 270.41h2.2M540.6 270.41h-2.2M322.6 287.52h2.2M540.6 287.52h-2.2M322.6 304.63h2.2M540.6 304.63h-2.2M322.6 321.74h2.2M540.6 321.74h-2.2M322.6 338.85h2.2M540.6 338.85h-2.2M322.6 355.96h2.2M540.6 355.96h-2.2M322.6 373.07h2.2M540.6 373.07h-2.2M322.6 390.18h2.2M540.6 390.18h-2.2M322.6 407.29h2.2M540.6 407.29h-2.2" stroke="#8a8a8a" stroke-width="0.9" fill="none"/>
<text x="323.00" y="433.90" text-anchor="middle" font-size="7.95" >0</text>
<text x="377.50" y="433.90" text-anchor="middle" font-size="7.95" >50</text>
<text x="432.00" y="433.90" text-anchor="middle" font-size="7.95" >100</text>
<text x="486.50" y="433.90" text-anchor="middle" font-size="7.95" >150</text>
<text x="541.00" y="433.90" text-anchor="middle" font-size="7.95" >200</text>
<text x="320.60" y="256.30" text-anchor="end" font-size="7.95" >1</text>
<text x="320.60" y="273.41" text-anchor="end" font-size="7.95" >0.9</text>
<text x="320.60" y="290.52" text-anchor="end" font-size="7.95" >0.8</text>
<text x="320.60" y="307.63" text-anchor="end" font-size="7.95" >0.7</text>
<text x="320.60" y="324.74" text-anchor="end" font-size="7.95" >0.6</text>
<text x="320.60" y="341.85" text-anchor="end" font-size="7.95" >0.5</text>
<text x="320.60" y="358.96" text-anchor="end" font-size="7.95" >0.4</text>
<text x="320.60" y="376.07" text-anchor="end" font-size="7.95" >0.3</text>
<text x="320.60" y="393.18" text-anchor="end" font-size="7.95" >0.2</text>
<text x="320.60" y="410.29" text-anchor="end" font-size="7.95" >0.1</text>
<text x="320.60" y="428.50" text-anchor="end" font-size="7.95" >0</text>
<text x="431.50" y="247.60" text-anchor="middle" font-size="7.95" >spectrum of warped signal</text>
<text x="431.20" y="443.60" text-anchor="middle" font-size="7.95" >frequency(Hz)</text>
<text x="425.3" y="465.9" text-anchor="middle" class="cap" font-size="12.6">(<tspan font-weight="bold">d</tspan>)</text>
</svg></body></html>
